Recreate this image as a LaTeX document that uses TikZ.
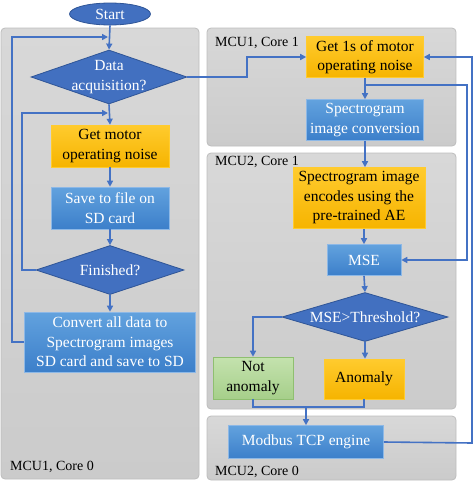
\documentclass[tikz,border=0pt]{standalone}
\usepackage{fontspec}
\setmainfont{Liberation Serif}
\usetikzlibrary{shapes.geometric,arrows.meta,calc}
\definecolor{lineblue}{HTML}{4472C4}
\definecolor{diafill}{HTML}{4270C0}
\definecolor{diaedge}{HTML}{2F5597}
\definecolor{blueA}{HTML}{62A2DE}
\definecolor{blueB}{HTML}{3C7FCA}
\definecolor{blueedge}{HTML}{8DB8E6}
\definecolor{orangeA}{HTML}{FFCB2E}
\definecolor{orangeB}{HTML}{F6B400}
\definecolor{greenA}{HTML}{C4E2AE}
\definecolor{greenB}{HTML}{A6CF8A}
\definecolor{greenedge}{HTML}{8FBF70}
\definecolor{panelA}{HTML}{D8D8D8}
\definecolor{panelB}{HTML}{CBCBCB}
\definecolor{paneledge}{HTML}{BDBDBD}
\begin{document}
\begin{tikzpicture}[x=1pt,y=-1pt,
  boxfont/.style={font=\fontsize{15.5}{19.5}\selectfont},
  panel/.style={draw=paneledge, line width=0.8pt, rounded corners=4pt, top color=panelA, bottom color=panelB},
  plabel/.style={anchor=west, inner sep=0pt, font=\fontsize{14}{16}\selectfont},
  basebox/.style={rectangle, inner sep=0pt, align=center, boxfont},
  bluebox/.style={basebox, top color=blueA, bottom color=blueB, draw=blueedge, line width=0.6pt, text=white},
  orangebox/.style={basebox, top color=orangeA, bottom color=orangeB, draw=orangeA, line width=0.6pt, text=black},
  greenbox/.style={basebox, top color=greenA, bottom color=greenB, draw=greenedge, line width=0.6pt, text=black},
  decision/.style={diamond, inner sep=0pt, fill=diafill, draw=diaedge, line width=0.8pt},
  dtext/.style={inner sep=0pt, align=center, text=white, boxfont},
  conn/.style={draw=lineblue, line width=1.6pt},
  arr/.style={conn, -{Triangle[length=6pt,width=6pt]}}
]
\useasboundingbox (0,0) rectangle (474,483);
% panels
\draw[panel] (1,28) rectangle (199,479);
\draw[panel] (207,28) rectangle (456,146);
\draw[panel] (207,153) rectangle (456,409);
\draw[panel] (207,416) rectangle (456,480);
\node[plabel] (p1) at (10,467) {MCU1, Core 0};
\node[plabel] (p2) at (215,43) {MCU1, Core 1};
\node[plabel] (p3) at (215,162) {MCU2, Core 1};
\node[plabel] (p4) at (215,472) {MCU2, Core 0};
% left column
\node[ellipse, fill=diafill, draw=diaedge, line width=0.8pt, minimum width=81pt, minimum height=22pt, inner sep=0pt, text=white, font=\fontsize{15.5}{18}\selectfont] (start) at (110,14) {Start};
\node[decision, minimum width=156pt, minimum height=54pt] (da) at (109,77) {};
\node[dtext] (dat) at (109,77) {Data\\acquisition?};
\node[orangebox, minimum width=118pt, minimum height=42pt] (gm) at (110,146) {Get motor\\operating noise};
\node[bluebox, minimum width=118pt, minimum height=42pt] (sv) at (110,208) {Save to file on\\SD card};
\node[decision, minimum width=148pt, minimum height=49pt] (fin) at (110,270) {};
\node[dtext] (fint) at (110,270) {Finished?};
\node[bluebox, minimum width=171pt, minimum height=60pt] (cv) at (110,342) {Convert all data to\\Spectrogram images\\SD card and save to SD};
% right column
\node[orangebox, minimum width=117pt, minimum height=41pt] (gs) at (365,57) {Get 1s of motor\\operating noise};
\node[bluebox, minimum width=117pt, minimum height=41pt] (sc) at (365,120) {Spectrogram\\image conversion};
\node[orangebox, minimum width=132pt, minimum height=61pt] (enc) at (359,198) {Spectrogram image\\encodes using the\\pre-trained AE};
\node[bluebox, minimum width=74pt, minimum height=31pt] (mse) at (364,260) {MSE};
\node[decision, minimum width=166pt, minimum height=49pt] (thr) at (365,317) {};
\node[dtext] (thrt) at (365,317) {MSE>Threshold?};
\node[greenbox, minimum width=80pt, minimum height=42pt] (na) at (253,378) {Not\\anomaly};
\node[orangebox, minimum width=80pt, minimum height=40pt] (an) at (364,379) {Anomaly};
\node[bluebox, minimum width=155pt, minimum height=33pt] (mb) at (306,442) {Modbus TCP engine};
% helper coordinates
\coordinate (l1) at (22,113);
\coordinate (l1e) at (108,113);
\coordinate (l2) at (12,37);
\coordinate (l2e) at (108,37);
\coordinate (j1) at (247,77);
\coordinate (tap) at (365,85);
\coordinate (rx) at (467,85);
\coordinate (rx2) at (472,443);
\coordinate (m) at (306,407);
% connectors left
\draw[arr] (start.south) -- (da.north);
\draw[arr] (da.south) -- (gm.north);
\draw[arr] (gm.south) -- (sv.north);
\draw[arr] (sv.south) -- (fin.north);
\draw[arr] (fin.south) -- (cv.north);
\draw[arr] (fin.west) -| (l1) -- (l1e);
\draw[arr] (cv.west) -| (l2) -- (l2e);
% connectors right
\draw[arr] (da.east) -- (da.east -| j1) |- (gs.west);
\draw[arr] (gs.south) -- (sc.north);
\draw[arr] (tap) -- (rx) |- (mse.east);
\draw[arr] (sc.south) -- (sc.south |- enc.north);
\draw[arr] (mse.north |- enc.south) -- (mse.north);
\draw[arr] (mse.south) -- (thr.north);
\draw[arr] (thr.west) -| (na.north);
\draw[arr] (thr.south) -- (thr.south |- an.north);
\draw[conn] (na.south) |- (m) -| (an.south);
\draw[arr] (m) -- (m |- mb.north);
\draw[arr] (mb.east) -- (rx2) |- (gs.east);
\end{tikzpicture}
\end{document}
